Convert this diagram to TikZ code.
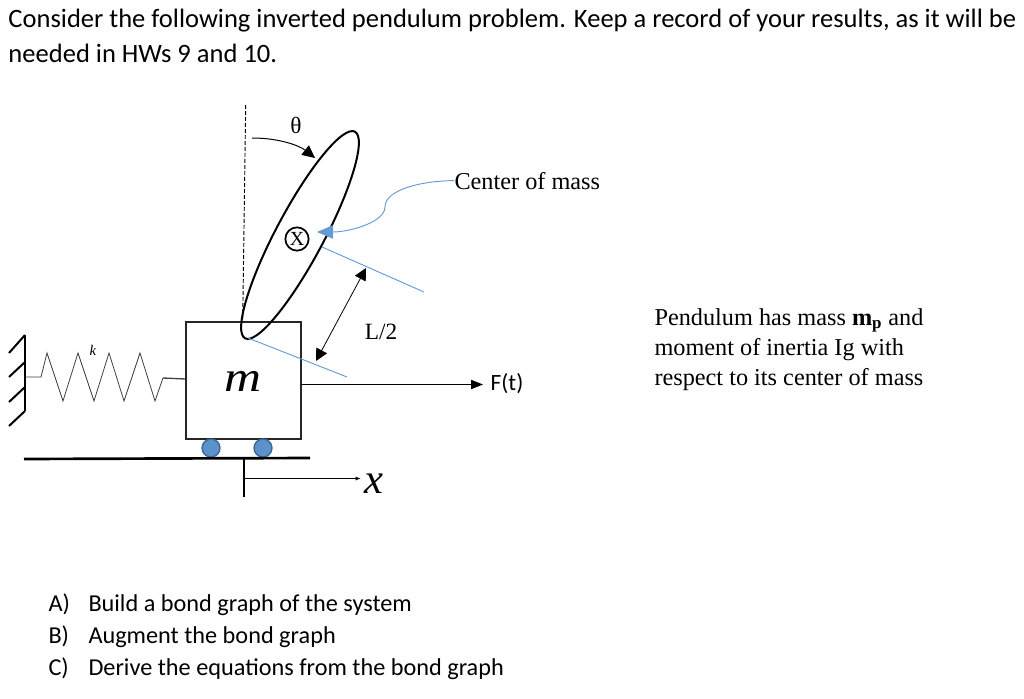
\documentclass[tikz,border=0pt]{standalone}
\usepackage{fontspec}
\setmainfont{Liberation Serif}
\newfontfamily\calfont{Carlito}
\usetikzlibrary{arrows.meta}
\definecolor{rollblue}{RGB}{91,146,204}
\definecolor{leadblue}{RGB}{100,155,215}
\tikzset{every picture/.style={line width=0.75pt},
  body/.style={font=\calfont\fontsize{19.9}{22}\selectfont,anchor=base west,inner sep=0pt},
  bodylow/.style={font=\calfont\fontsize{18.2}{22}\selectfont,anchor=base west,inner sep=0pt},
  serif/.style={font=\fontsize{18.2}{20}\selectfont,anchor=base west,inner sep=0pt},
  bigtip/.style={-{Triangle[length=9.5pt,width=9pt]}},
  lead/.style={color=leadblue,line width=0.7pt}}

\begin{document}
\begin{tikzpicture}[x=0.75pt,y=0.75pt,yscale=-1,xscale=1]
\useasboundingbox (0,0) rectangle (1024,699);

% Text Node
\node[body] (intro1) at (8,28) {Consider the following inverted pendulum problem. Keep a record of your results, as it will be};
% Text Node
\node[body] (intro2) at (8,63) {needed in HWs 9 and 10.};

%Shape: Rectangle
\node[draw=black!85,line width=1.5pt,minimum width=86pt,minimum height=87.5pt,inner sep=0pt] (mass) at (243.5,380.5) {};
% Text Node
\node[inner sep=0pt,font=\itshape\fontsize{32}{32}\selectfont,xscale=1.2] (masslabel) at (243,381) {m};
%Shape: Circle
\node[circle,draw=rollblue!70!black,fill=rollblue,line width=1pt,minimum size=13.5pt,inner sep=0pt] (rollerA) at (211,448) {};
%Shape: Circle
\node[circle,draw=rollblue!70!black,fill=rollblue,line width=1pt,minimum size=13.5pt,inner sep=0pt] (rollerB) at (263,448) {};

%Straight Lines
\draw [line width=2pt] (24,459) -- (310,458);
\coordinate (axtop) at (244,459);
\coordinate (axbot) at (244,497);
\coordinate (axstart) at (244,478.5);
\node[inner sep=0pt,font=\itshape\fontsize{32}{32}\selectfont] (xlabel) at (374,484) {x};
\draw [line width=1pt] (axtop) -- (axbot);
\draw [line width=1pt,-{Latex[length=4pt,width=3pt]}] (axstart) -- (361,478.5);

%Wall
\coordinate (walltop) at (25,335);
\coordinate (wallbot) at (25,411);
\draw [line width=1.3pt] (walltop) -- (wallbot);
\foreach \y/\z in {335/353,362/377,387/402,411/426}
  \draw [line width=1.5pt] (25,\y) -- (9,\z);

%Spring
\coordinate (springL) at (25,377);
\coordinate (springR) at (mass.west |- 0,379);
\draw [line width=0.6pt,black!75] (springL) -- (41,377) -- (47,353) -- (63,401) -- (78,353) -- (94,401) -- (109,353) -- (124,401) -- (140,353) -- (155,401) -- (163,378);
\draw [line width=1pt,black!75] (163,378) -- (springR);
% Text Node
\node[inner sep=0pt,font=\itshape\fontsize{11}{11}\selectfont] (klabel) at (93,350) {k};

%Straight Lines
\draw [dashed,dash pattern={on 3pt off 1.5pt},line width=0.7pt] (245.7,105) -- (242.7,322);

%Shape: Ellipse
\draw [line width=1.5pt,rotate around={-62:(300,235)}] (300,235) ellipse [x radius=117,y radius=24];
%Shape: Circle
\node[circle,draw,line width=1.3pt,minimum size=17.5pt,inner sep=0pt,font=\fontsize{15}{15}\selectfont] (cm) at (297,239) {X};

% Text Node
\node[inner sep=0pt,font=\fontsize{17.5}{17.5}\selectfont] (theta) at (296,125) {θ};
%Curve Lines
\draw [bigtip] (252,138) .. controls (280,138) and (300,146) .. (315,158);

% Text Node
\node[serif] (cmlabel) at (454,189) {Center of mass};
%Curve Lines
\draw [lead,-{Triangle[length=12pt,width=10pt]}] (cmlabel.west) .. controls (420,181) and (385,190) .. (385,207) .. controls (385,222) and (350,232) .. (317,232);

%Straight Lines
\draw [lead] (322,247) -- (424,292);
%Straight Lines
\draw [lead] (248,338) -- (347,377);
%Straight Lines
\draw [{Triangle[length=9pt,width=9pt]}-{Triangle[length=9pt,width=9pt]},line width=0.6pt] (366,268) -- (316,361);
% Text Node
\node[inner sep=0pt,font=\fontsize{17.5}{17.5}\selectfont] (half) at (381,332) {L/2};

%Straight Lines
\node[inner sep=0pt,font=\calfont\fontsize{17.5}{17.5}\selectfont] (force) at (507,384) {F(t)};
\coordinate (fstart) at (301,384.5);
\draw [-{Triangle[length=9pt,width=7pt]},line width=0.7pt] (fstart) -- (483,384.5);

% Text Node
\node[serif] (note1) at (654,325) {Pendulum has mass $\mathbf{m_p}$ and};
% Text Node
\node[serif] (note2) at (654,355) {moment of inertia Ig with};
% Text Node
\node[serif] (note3) at (654,385) {respect to its center of mass};

% Text Node
\node[bodylow] (itemA) at (48,611) {A)};
\node[bodylow] (textA) at (88,611) {Build a bond graph of the system};
\node[bodylow] (itemB) at (48,643) {B)};
\node[bodylow] (textB) at (88,643) {Augment the bond graph};
\node[bodylow] (itemC) at (48,675) {C)};
\node[bodylow] (textC) at (88,675) {Derive the equations from the bond graph};
\end{tikzpicture}
\end{document}
